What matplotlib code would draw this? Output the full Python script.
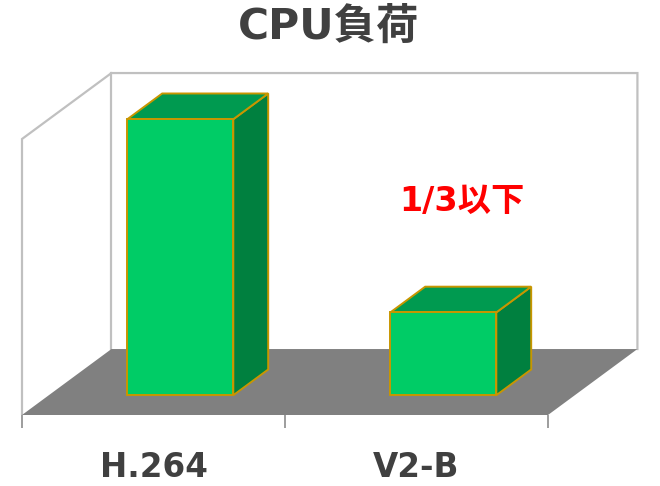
import matplotlib
matplotlib.use('Agg')
import matplotlib.pyplot as plt
from matplotlib.patches import Polygon
import numpy as np

plt.rcParams['font.family'] = ['DejaVu Sans', 'Noto Sans CJK JP']

# ---- data ----
title = 'CPU負荷'
categories = ['H.264', 'V2-B']
values = [100, 30]
axis_max = 100
note = '1/3以下'

# ---- pseudo-3D styling ----
KX, KY = 0.340, 23.9      # screen offset per unit depth (x in category units, y in value units)
D0, D1 = 0.30, 0.69       # bar front / back depth
BW = 0.403                # bar width

FRONT = '#00CC66'
TOP = '#009A50'
SIDE = '#00803F'
EDGE = '#C89600'
FLOOR = '#808080'
WALL = '#C0C0C0'


def proj(x, v, d):
    return (x + d * KX, v + d * KY)


fig = plt.figure(figsize=(6.6, 4.86), dpi=100)
ax = fig.add_axes([0, 71 / 486, 1, 355 / 486])
ax.set_xlim(-0.5 - 22 / 263, -0.5 + 638 / 263)
ax.set_ylim(0, 355 / 2.76)
ax.patch.set_visible(False)

n = len(categories)
x0, x1 = -0.5, n - 0.5

# floor
floor = [proj(x0, 0, 0), proj(x1, 0, 0), proj(x1, 0, 1), proj(x0, 0, 1)]
ax.add_patch(Polygon(floor, closed=True, fc=FLOOR, ec='none', zorder=1))

# walls
wall = [proj(x0, 0, 0), proj(x0, axis_max, 0), proj(x0, axis_max, 1),
        proj(x1, axis_max, 1), proj(x1, 0, 1)]
ax.plot(*zip(*wall), color=WALL, lw=1.6, zorder=0.5, solid_joinstyle='miter')
back_left = [proj(x0, 0, 1), proj(x0, axis_max, 1)]
ax.plot(*zip(*back_left), color=WALL, lw=1.6, zorder=0.5)

# bars
xs = np.arange(n)
ax.bar(xs + D0 * KX, values, width=BW, bottom=D0 * KY, color=FRONT,
       edgecolor=EDGE, lw=1.4, zorder=4)
for i, v in enumerate(values):
    l, r = xs[i] - BW / 2, xs[i] + BW / 2
    top = [proj(l, v, D0), proj(r, v, D0), proj(r, v, D1), proj(l, v, D1)]
    side = [proj(r, 0, D0), proj(r, v, D0), proj(r, v, D1), proj(r, 0, D1)]
    ax.add_patch(Polygon(side, closed=True, fc=SIDE, ec=EDGE, lw=1.4, zorder=3))
    ax.add_patch(Polygon(top, closed=True, fc=TOP, ec=EDGE, lw=1.4, zorder=3))

# axes ticks & labels
ax.set_xticks([x0 + k for k in range(n + 1)])
ax.set_xticklabels([])
ax.set_xticks(xs, minor=True)
ax.set_xticklabels(categories, minor=True, fontsize=23.5, fontweight='bold',
                   color='#404040')
ax.tick_params(axis='x', which='major', length=9.4, width=1.2,
               color='#8C8C8C', direction='out')
ax.tick_params(axis='x', which='minor', length=0, pad=26)
ax.set_yticks([])
for s in ['top', 'left', 'right', 'bottom']:
    ax.spines[s].set_visible(False)

# annotation
ax.text(1.173, 77.2, note, color='#FF0000', fontsize=24, fontweight='bold',
        ha='center', va='center')

fig.text(0.4985, 1 - 27 / 486, title, ha='center', va='center', fontsize=30.5,
         fontweight='bold', color='#404040')

fig.savefig('out.png', dpi=100)
